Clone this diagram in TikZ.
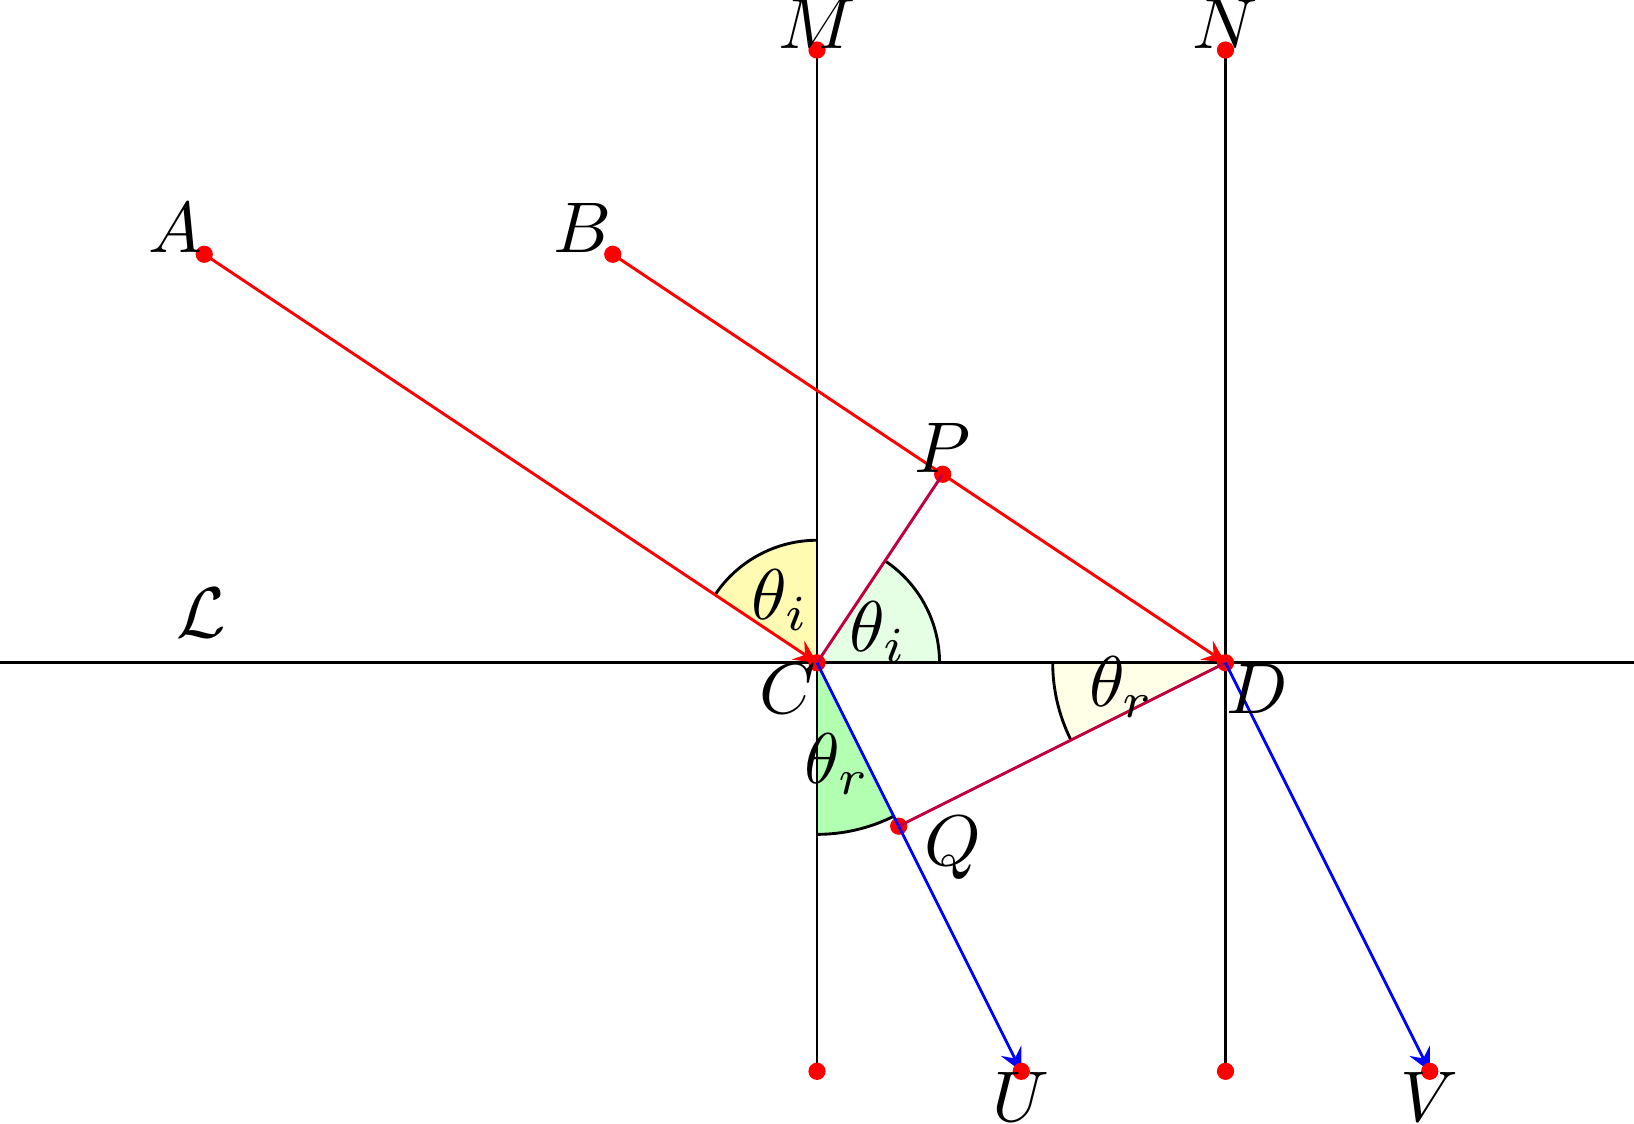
\documentclass[tikz,border=0pt]{standalone}
\usetikzlibrary{calc}
\begin{document}
\begin{tikzpicture}[x=2cm,y=2cm,
  lbl/.style={inner sep=0pt},
  dot/.style={fill=red},
  axis/.style={black,line width=0.4pt},
  ray/.style={red,-stealth},
  outray/.style={blue,-stealth},
  perp/.style={purple}]
\useasboundingbox (-2,-1.129) rectangle (2,1.6225);
% points
\coordinate (C) at (0,0);
\coordinate (D) at (1,0);
\coordinate (A) at (-1.5,1);
\coordinate (B) at (-0.5,1);
\coordinate (M) at (0,1.5);
\coordinate (N) at (1,1.5);
\coordinate (Mb) at (0,-1);
\coordinate (Nb) at (1,-1);
\coordinate (U) at (0.5,-1);
\coordinate (V) at (1.5,-1);
\coordinate (P) at (0.30769,0.46154);
\coordinate (Q) at (0.2,-0.4);
\coordinate (Lw) at (-2,0);
\coordinate (Le) at (2,0);
% sectors
\fill[yellow!30] (C) -- ++(90:0.3) arc[start angle=90,end angle=146.31,radius=0.3] -- cycle;
\draw (C) ++(90:0.3) arc[start angle=90,end angle=146.31,radius=0.3];
\fill[green!10] (C) -- ++(0:0.3) arc[start angle=0,end angle=56.31,radius=0.3] -- cycle;
\draw (C) ++(0:0.3) arc[start angle=0,end angle=56.31,radius=0.3];
\fill[green!30] (C) -- ++(270:0.42) arc[start angle=270,end angle=296.565,radius=0.42] -- cycle;
\draw (C) ++(270:0.42) arc[start angle=270,end angle=296.565,radius=0.42];
\fill[yellow!10] (D) -- ++(180:0.423) arc[start angle=180,end angle=206.565,radius=0.423] -- cycle;
\draw (D) ++(180:0.423) arc[start angle=180,end angle=206.565,radius=0.423];
% black lines
\draw[axis] (Lw) -- (Le);
\draw[axis] (M) -- (Mb);
\draw[axis] (N) -- (Nb);
% dots
\foreach \p in {A,B,M,N,C,D,P,Q,Mb,Nb}{\fill[dot] (\p) circle (1.2pt);}
% rays
\draw[ray] (A) -- (C);
\draw[ray] (B) -- (D);
\draw[perp] (C) -- (P);
\draw[perp] (Q) -- (D);
\draw[outray] (C) -- (U);
\draw[outray] (D) -- (V);
\foreach \p in {U,V}{\fill[dot] (\p) circle (1.2pt);}
% labels
\node[lbl,anchor=south east] (lA) at (A) {$A$};
\node[lbl,anchor=south east] (lB) at (B) {$B$};
\node[lbl,anchor=south] (lM) at (M) {$M$};
\node[lbl,anchor=south] (lN) at (N) {$N$};
\node[lbl,anchor=south] (lP) at (P) {$P$};
\node[lbl,anchor=north east] (lC) at (C) {$C$};
\node[lbl,anchor=north west] (lD) at (D) {$D$};
\node[lbl,anchor=north west] (lQ) at ($(Q)+(0.059,0.027)$) {$Q$};
\node[lbl,anchor=north] (lU) at (U) {$U$};
\node[lbl,anchor=north] (lV) at (V) {$V$};
\node[lbl] (lL) at (-1.508,0.123) {$\mathcal{L}$};
\node[lbl] (t1) at (-0.089,0.154) {$\theta_i$};
\node[lbl] (t2) at (0.150,0.076) {$\theta_i$};
\node[lbl] (t3) at (0.050,-0.248) {$\theta_r$};
\node[lbl] (t4) at (0.746,-0.060) {$\theta_r$};
\end{tikzpicture}
\end{document}
